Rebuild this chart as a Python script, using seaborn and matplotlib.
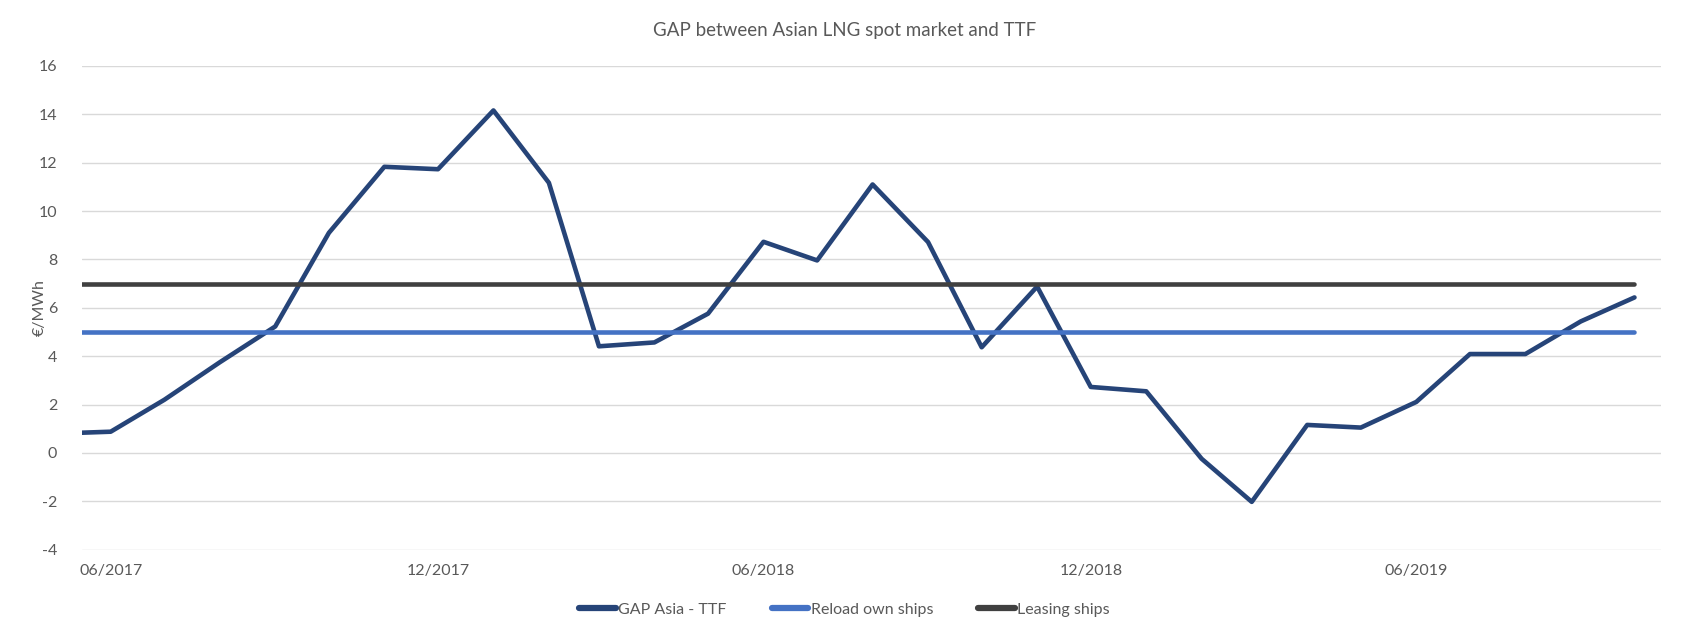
import matplotlib
matplotlib.use("Agg")
import matplotlib.pyplot as plt
import matplotlib.dates as mdates
import seaborn as sns
import pandas as pd
import numpy as np

# ---- data ----
months = pd.date_range("2017-05-01", "2019-10-01", freq="MS")
gap_asia_ttf = [0.80, 0.88, 2.20, 3.75, 5.23, 9.10, 11.83, 11.73, 14.16, 11.17,
                4.41, 4.57, 5.76, 8.73, 7.96, 11.10, 8.72, 4.37, 6.88, 2.73,
                2.55, -0.24, -2.02, 1.16, 1.05, 2.11, 4.09, 4.09, 5.44, 6.43]
reload_own_ships = [5, 5, 5, 5, 5, 5, 5, 5, 5, 5, 5, 5, 5, 5, 5,
                    5, 5, 5, 5, 5, 5, 5, 5, 5, 5, 5, 5, 5, 5, 5]
leasing_ships = [7, 7, 7, 7, 7, 7, 7, 7, 7, 7, 7, 7, 7, 7, 7,
                 7, 7, 7, 7, 7, 7, 7, 7, 7, 7, 7, 7, 7, 7, 7]
series_names = ["GAP Asia - TTF", "Reload own ships", "Leasing ships"]
series_colors = ["#264478", "#4472C4", "#404040"]
x_tick_dates = ["2017-06-01", "2017-12-01", "2018-06-01", "2018-12-01", "2019-06-01"]
y_ticks = [-4, -2, 0, 2, 4, 6, 8, 10, 12, 14, 16]
title = "GAP between Asian LNG spot market and TTF"
y_label = "€/MWh"

df = pd.concat([
    pd.DataFrame({"date": months, "value": vals, "series": name})
    for name, vals in zip(series_names, [gap_asia_ttf, reload_own_ships, leasing_ships])
], ignore_index=True)

# ---- style ----
sns.set_theme(style="white")
plt.rcParams["font.family"] = ["Lato", "DejaVu Sans"]
plt.rcParams["axes.unicode_minus"] = False
text_color = "#595959"

fig = plt.figure(figsize=(16.89, 6.40), dpi=100)
ax = fig.add_axes([0.0486, 0.141, 0.9350, 0.756])

sns.lineplot(data=df, x="date", y="value", hue="series",
             palette=dict(zip(series_names, series_colors)),
             hue_order=series_names, linewidth=3.3, ax=ax,
             solid_capstyle="round", legend=False)

ax.set_ylim(-4, 16)
ax.set_yticks(y_ticks)
ax.set_xlim(pd.Timestamp("2017-05-16"), pd.Timestamp("2019-10-16"))
ax.set_xticks(pd.to_datetime(x_tick_dates))
ax.xaxis.set_major_formatter(mdates.DateFormatter("%m/%Y"))

ax.grid(axis="y", color="#D9D9D9", linewidth=1.0)
ax.set_axisbelow(True)
for s in ax.spines.values():
    s.set_visible(False)
ax.tick_params(axis="both", length=0, labelsize=11.5, labelcolor=text_color)
ax.tick_params(axis="x", pad=10)
ax.tick_params(axis="y", pad=18)

ax.set_xlabel("")
ax.set_ylabel(y_label, fontsize=11.5, color=text_color, labelpad=-6)
fig.text(0.5, 0.953, title, ha="center", va="center", fontsize=13.5, color=text_color)

handles = [plt.Line2D([], [], color=c, linewidth=4.5, solid_capstyle="round") for c in series_colors]
leg = fig.legend(handles, series_names, loc="center", bbox_to_anchor=(0.5, 0.047),
                 ncol=3, frameon=False, fontsize=11.5, handlelength=2.3,
                 handletextpad=0.15, columnspacing=2.8)
for t in leg.get_texts():
    t.set_color(text_color)

fig.savefig("out.png", dpi=100)
